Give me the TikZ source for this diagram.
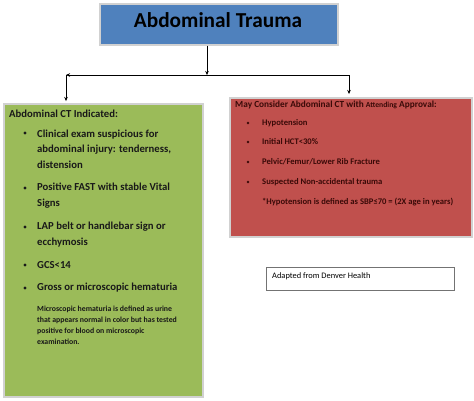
\documentclass[tikz,border=0pt]{standalone}
\usepackage{fontspec}
\setmainfont{Carlito}
\usetikzlibrary{arrows.meta}
\definecolor{traumablue}{HTML}{4F81BD}
\definecolor{ctgreen}{HTML}{9BBB59}
\definecolor{ctred}{HTML}{C0504D}
\definecolor{redtext}{HTML}{3A0A08}
\tikzset{>={Stealth[length=4pt,width=3.5pt]}}
\tikzset{
  panel/.style={draw=black!18, line width=1.5pt, inner sep=0pt, anchor=north west},
  greenitem/.style={anchor=west, align=left, inner sep=0pt, text=black!90,
    font=\bfseries\fontsize{10.7}{15.5}\selectfont},
  greennote/.style={anchor=west, align=left, inner sep=0pt, text=black!90,
    font=\bfseries\fontsize{7.8}{11}\selectfont},
  reditem/.style={anchor=west, align=left, inner sep=0pt, text=redtext,
    font=\bfseries\fontsize{8.6}{10}\selectfont},
  gdot/.style={circle, fill=black!90, inner sep=0pt, minimum size=3.2pt},
  rdot/.style={circle, fill=redtext, inner sep=0pt, minimum size=2.8pt}
}

\begin{document}
\begin{tikzpicture}[x=1pt,y=-1pt]
    \useasboundingbox (0,0) rectangle (474,400);
    % boxes
    \node[panel, fill=traumablue, minimum width=238pt, minimum height=41pt] (trauma) at (99,3) {};
    \node[panel, fill=ctgreen, minimum width=199pt, minimum height=293pt] (indicated) at (3,103) {};
    \node[panel, fill=ctred, minimum width=242pt, minimum height=139pt] (consider) at (229,97) {};
    \node[draw=black!55, line width=0.8pt, fill=white, inner sep=0pt, anchor=north west,
      minimum width=188pt, minimum height=23pt] (source) at (266,267) {};
    \node[font=\bfseries\fontsize{21.3}{25}\selectfont] (title) at (218,20) {Abdominal Trauma};
    % connectors
    \coordinate (split) at (207,75);
    \coordinate (left) at (66,75);
    \coordinate (right) at (349,75);
    \draw[->,thin] (trauma.south -| split) -- (split);
    \draw[->,thin] (split) -- (left);
    \draw[->,thin,shorten >=2pt] (left) -- (left |- indicated.north);
    \draw[->,thin,shorten >=3pt] (split) -| (consider.north -| right);
    % green panel
    \node[greenitem] (indhead) at (9,114) {Abdominal CT Indicated:};
    \node[greenitem] (clinical) at (37,149) {Clinical exam suspicious for\\abdominal injury: tenderness,\\distension};
    \node[greenitem] (fast) at (37,195.5) {Positive FAST with stable Vital\\Signs};
    \node[greenitem] (lap) at (37,234.5) {LAP belt or handlebar sign or\\ecchymosis};
    \node[greenitem] (gcs) at (37,265) {GCS<14};
    \node[greenitem] (hematuria) at (37,288) {Gross or microscopic hematuria};
    \node[greennote] (note) at (37,325.5) {Microscopic hematuria is defined as urine\\that appears normal in color but has tested\\positive for blood on microscopic\\examination.};
    \foreach \y in {133,188,227,265,288}
        \node[gdot] at (25,\y) {};
    % red panel
    \node[reditem, font=\bfseries\fontsize{9.3}{11}\selectfont] (conhead) at (235,105)
      {May Consider Abdominal CT with {\fontsize{7.7}{9}\selectfont Attending} Approval:};
    \node[reditem] (hypo) at (262,123) {Hypotension};
    \node[reditem] (hct) at (262,142) {Initial HCT<30\%};
    \node[reditem] (fracture) at (262,162) {Pelvic/Femur/Lower Rib Fracture};
    \node[reditem] (nat) at (262,182) {Suspected Non-accidental trauma};
    \node[reditem] (hyponote) at (262,202) {*Hypotension is defined as SBP≤70 = (2X age in years)};
    \foreach \y in {123,142,162,182}
        \node[rdot] at (248,\y) {};
    % source
    \node[anchor=west, inner sep=0pt, font=\fontsize{8.4}{10}\selectfont] (adapted) at (272,276) {Adapted from Denver Health};
\end{tikzpicture}
\end{document}
